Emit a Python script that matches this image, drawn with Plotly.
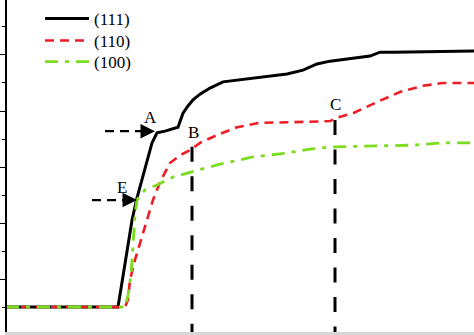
import plotly.graph_objects as go

# ---- data (x in arbitrary strain units, y in stress units) ----
x_111 = [0.0, 1.12, 1.18, 1.23, 1.26, 1.31, 1.35, 1.39, 1.43, 1.46, 1.51, 1.59, 1.72, 1.77, 1.82, 1.87,
         1.94, 2.04, 2.17, 2.31, 2.54, 2.81, 2.97, 3.11, 3.24, 3.54, 3.64, 3.74, 3.87, 4.68]
y_111 = [0.5, 0.5, 1.16, 1.70, 2.05, 2.45, 2.71, 3.00, 3.27, 3.43, 3.61, 3.64, 3.71, 3.96, 4.09, 4.20,
         4.30, 4.41, 4.52, 4.55, 4.61, 4.66, 4.73, 4.84, 4.89, 4.95, 4.98, 5.05, 5.05, 5.07]

x_110 = [0.0, 1.19, 1.22, 1.24, 1.29, 1.32, 1.37, 1.41, 1.47, 1.54, 1.64, 1.74, 1.84, 1.94, 2.11, 2.31,
         2.54, 2.87, 3.24, 3.31, 3.47, 3.71, 3.94, 4.17, 4.37, 4.68]
y_110 = [0.5, 0.5, 0.63, 0.98, 1.34, 1.52, 1.82, 2.05, 2.41, 2.73, 3.07, 3.21, 3.30, 3.43, 3.57, 3.71,
         3.79, 3.80, 3.82, 3.88, 3.96, 4.16, 4.34, 4.45, 4.50, 4.50]

x_100 = [0.0, 1.19, 1.22, 1.25, 1.27, 1.29, 1.31, 1.35, 1.39, 1.51, 1.67, 1.84, 1.99, 2.14, 2.47, 2.81,
         3.04, 3.27, 3.71, 4.07, 4.37, 4.68]
y_100 = [0.5, 0.5, 0.71, 1.07, 1.61, 2.14, 2.41, 2.52, 2.59, 2.68, 2.82, 2.91, 2.98, 3.05, 3.18, 3.25,
         3.32, 3.36, 3.38, 3.39, 3.43, 3.43]

series_names = ["(111)", "(110)", "(100)"]

# marker points
label_names = ["A", "B", "C", "E"]
label_x = [1.44, 1.87, 3.29, 1.16]
label_y = [3.88, 3.62, 4.11, 2.63]

vline_x = [1.86, 3.29]          # B, C
vline_top = [3.36, 3.84]

arrow_y = [3.64, 2.41]          # A, E
arrow_x0 = [0.99, 0.86]
arrow_x1 = [1.49, 1.31]

serif = "Liberation Serif, Times New Roman, serif"

fig = go.Figure()
fig.add_trace(go.Scatter(x=x_111, y=y_111, mode="lines", name=series_names[0], legend="legend",
                         line=dict(color="#000000", width=3)))
fig.add_trace(go.Scatter(x=x_110, y=y_110, mode="lines", name=series_names[1], legend="legend2",
                         line=dict(color="#ee1c25", width=2.6, dash="9px,6px")))
fig.add_trace(go.Scatter(x=x_100, y=y_100, mode="lines", name=series_names[2], legend="legend3",
                         line=dict(color="#7cdc1e", width=2.8, dash="13px,7px,4px,7px")))

# vertical dashed lines at B and C
for xv, yt in zip(vline_x, vline_top):
    fig.add_shape(type="line", x0=xv, x1=xv, y0=yt, y1=0.0, xref="x", yref="y",
                  line=dict(color="black", width=3, dash="15px,14.5px"))

# dashed arrows at A and E
for ya, xa0, xa1 in zip(arrow_y, arrow_x0, arrow_x1):
    fig.add_shape(type="line", x0=xa0, x1=xa1 - 0.08, y0=ya, y1=ya, xref="x", yref="y",
                  line=dict(color="black", width=2.2, dash="9px,6px"))
    fig.add_annotation(x=xa1, y=ya, ax=-15, ay=0, xref="x", yref="y", text="",
                       showarrow=True, arrowhead=2, arrowsize=1.45, arrowwidth=2, arrowcolor="black",
                       standoff=0)

for t, lx, ly in zip(label_names, label_x, label_y):
    fig.add_annotation(x=lx, y=ly, xref="x", yref="y", text=t, showarrow=False,
                       font=dict(family=serif, size=17, color="black"))

legend_rows = [19, 41, 62]  # pixel centre of each legend row
leg_common = dict(xanchor="left", yanchor="middle", bgcolor="rgba(0,0,0,0)",
                  font=dict(family=serif, size=17, color="black"), itemwidth=44)

fig.update_layout(
    width=474, height=335,
    margin=dict(l=7, r=0, t=0, b=3, autoexpand=False),
    paper_bgcolor="white", plot_bgcolor="white",
    showlegend=True,
    legend=dict(x=(40 - 7) / 467, y=1 - legend_rows[0] / 332, **leg_common),
    legend2=dict(x=(40 - 7) / 467, y=1 - legend_rows[1] / 332, **leg_common),
    legend3=dict(x=(40 - 7) / 467, y=1 - legend_rows[2] / 332, **leg_common),
    xaxis=dict(range=[0.01, 4.68], showgrid=False, zeroline=False, showticklabels=False,
               ticks="", showline=True, linecolor="#d6d6d6", linewidth=3),
    yaxis=dict(range=[0.0536, 5.982], showgrid=False, zeroline=False, showticklabels=False,
               showline=True, linecolor="black", linewidth=1.5,
               ticks="outside", ticklen=6, tickwidth=1.3, tickcolor="black", dtick=1, tick0=0,
               minor=dict(ticks="outside", ticklen=3, tickwidth=1.3, tickcolor="black", dtick=0.5)),
)

fig.write_html("out.html")
